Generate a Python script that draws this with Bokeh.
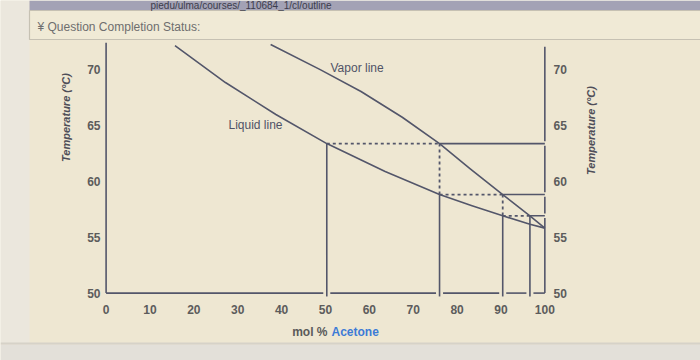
from bokeh.plotting import figure
from bokeh.models import Range1d
from bokeh.core.properties import value
from bokeh.embed import file_html
from bokeh.resources import INLINE

# ---------------- data ----------------
liquid_x = [15.7, 27.2, 38.7, 50.3, 63.6, 76.0, 83.4, 90.4, 96.6, 100.0]
liquid_T = [72.1, 68.8, 65.95, 63.35, 60.85, 58.8, 57.8, 56.9, 56.15, 55.8]
vapor_x = [37.5, 48.8, 58.1, 67.5, 76.0, 83.0, 90.4, 96.6, 100.0]
vapor_T = [72.2, 69.95, 68.0, 65.7, 63.35, 61.1, 58.8, 56.9, 55.8]

# stepwise construction (tie lines and drop lines)
tie_T = [63.35, 58.8, 56.9]
tie_x_liq = [50.3, 76.0, 90.4]
tie_x_vap = [76.0, 90.4, 96.6]
drop_x = [50.3, 76.0, 90.4, 96.6]
drop_top = [63.35, 58.8, 56.9, 56.9]

x_ticks = [0, 10, 20, 30, 40, 50, 60, 70, 80, 90, 100]
y_ticks = [50, 55, 60, 65, 70]
x_min, x_max = 0, 100
y_min, y_max = 50, 72.2

# ---------------- styling ----------------
BG = "#eee7d2"
LINE = "#53566a"
TXT = "#5c5c5c"
FONT = "Liberation Sans"

W, H = 700, 360
X0_PX, XS = 105.6, 4.3874      # pixel of x=0, pixels per x unit
Y0_PX, YS = 292.6, 11.2        # pixel of T=50, pixels per degree

def dx(px):
    return x_min + (px - X0_PX) / XS
def dy(py):
    return y_min + (Y0_PX - py) / YS

p = figure(width=W, height=H, output_backend="svg", toolbar_location=None,
           x_range=Range1d(dx(0), dx(W)), y_range=Range1d(dy(H), dy(0)),
           min_border=0, x_axis_location=None, y_axis_location=None)
p.background_fill_color = BG
p.border_fill_color = BG
p.outline_line_color = None
p.grid.visible = False

# ---- page decorations of the photographed screen ----
p.quad(left=[dx(0)], right=[dx(29)], top=[dy(0)], bottom=[dy(344)],
       fill_color="#ebe7dd", line_color=None)
p.quad(left=[dx(29)], right=[dx(700)], top=[dy(0)], bottom=[dy(10)],
       fill_color="#a3a2b5", line_color=None)
p.quad(left=[dx(29)], right=[dx(705)], top=[dy(10)], bottom=[dy(39)],
       fill_color="#f0ead6", line_color="#c6c1b3", line_width=1.2)
p.quad(left=[dx(0)], right=[dx(700)], top=[dy(344)], bottom=[dy(360)],
       fill_color="#e3e0d9", line_color=None)
p.segment(x0=[dx(0)], y0=[dy(343)], x1=[dx(700)], y1=[dy(343)],
          line_color="#d6d2c8", line_width=2)
p.text(x=[dx(150)], y=[dy(5)], text=["piedu/ulma/courses/_110684_1/cl/outline"],
       text_font=value(FONT), text_font_size="10px", text_color="#3c3c4c",
       text_baseline="middle", text_align="left")
p.text(x=[dx(37)], y=[dy(26)], text=["¥ Question Completion Status:"],
       text_font=value(FONT), text_font_size="12px", text_color="#6e6e6e",
       text_baseline="middle", text_align="left")

# ---- axis lines (with small gaps where construction lines meet them) ----
gx = 0.8
bx0 = [x_min] + [d + gx for d in drop_x]
bx1 = [d - gx for d in drop_x] + [x_max]
p.segment(x0=bx0, y0=[y_min] * len(bx0), x1=bx1, y1=[y_min] * len(bx1),
          line_color=LINE, line_width=1.6)
gy = 0.2
ry0 = [y_max - 0.2] + [t - gy for t in tie_T]
ry1 = [t + gy for t in tie_T] + [y_min]
p.segment(x0=[x_max] * len(ry0), y0=ry0, x1=[x_max] * len(ry1), y1=ry1,
          line_color=LINE, line_width=1.6)
p.segment(x0=[x_min], y0=[y_min], x1=[x_min], y1=[y_max + 0.15],
          line_color=LINE, line_width=1.6)

# ---- tick labels ----
p.text(x=[dx(100)] * len(y_ticks), y=y_ticks, text=[str(t) for t in y_ticks],
       text_font=value(FONT), text_font_style="bold", text_font_size="12px",
       text_color=TXT, text_align="right", text_baseline="middle")
p.text(x=[dx(553)] * len(y_ticks), y=y_ticks, text=[str(t) for t in y_ticks],
       text_font=value(FONT), text_font_style="bold", text_font_size="12px",
       text_color=TXT, text_align="left", text_baseline="middle")
p.text(x=x_ticks, y=[dy(309)] * len(x_ticks), text=[str(t) for t in x_ticks],
       text_font=value(FONT), text_font_style="bold", text_font_size="12px",
       text_color=TXT, text_align="center", text_baseline="middle")

# ---- curves ----
p.line(liquid_x, liquid_T, line_color=LINE, line_width=1.6, line_join="round")
p.line(vapor_x, vapor_T, line_color=LINE, line_width=1.6, line_join="round")

# ---- construction lines ----
p.segment(x0=drop_x, y0=drop_top, x1=drop_x, y1=[y_min - 0.3] * len(drop_x),
          line_color=LINE, line_width=1.6)
p.segment(x0=tie_x_vap, y0=tie_T, x1=[x_max] * len(tie_T), y1=tie_T,
          line_color=LINE, line_width=1.6)
p.segment(x0=tie_x_liq, y0=tie_T, x1=tie_x_vap, y1=tie_T,
          line_color=LINE, line_width=1.8, line_dash="3 3")
p.segment(x0=tie_x_vap[:-1], y0=tie_T[:-1], x1=tie_x_vap[:-1], y1=drop_top[1:-1],
          line_color=LINE, line_width=1.8, line_dash="3 3")

# ---- texts ----
p.text(x=[dx(330)], y=[dy(67)], text=["Vapor line"], text_font=value(FONT),
       text_font_size="12px", text_color="#505366", text_baseline="middle")
p.text(x=[dx(228)], y=[dy(124)], text=["Liquid line"], text_font=value(FONT),
       text_font_size="12px", text_color="#505366", text_baseline="middle")
p.text(x=[dx(65), dx(590)], y=[dy(117), dy(130)],
       text=["Temperature (°C)", "Temperature (°C)"], text_font=value(FONT),
       text_font_size="11px", text_font_style="bold italic", text_color="#4e4e58",
       angle=90, angle_units="deg", text_align="center", text_baseline="middle")
p.text(x=[dx(327)], y=[dy(331)], text=["mol %"], text_font=value(FONT),
       text_font_size="12px", text_font_style="bold", text_color="#5a5a5a",
       text_align="right", text_baseline="middle")
p.text(x=[dx(331)], y=[dy(331)], text=["Acetone"], text_font=value(FONT),
       text_font_size="12px", text_font_style="bold", text_color="#3d7bd6",
       text_align="left", text_baseline="middle")

open("out.html", "w").write(file_html(p, INLINE))
